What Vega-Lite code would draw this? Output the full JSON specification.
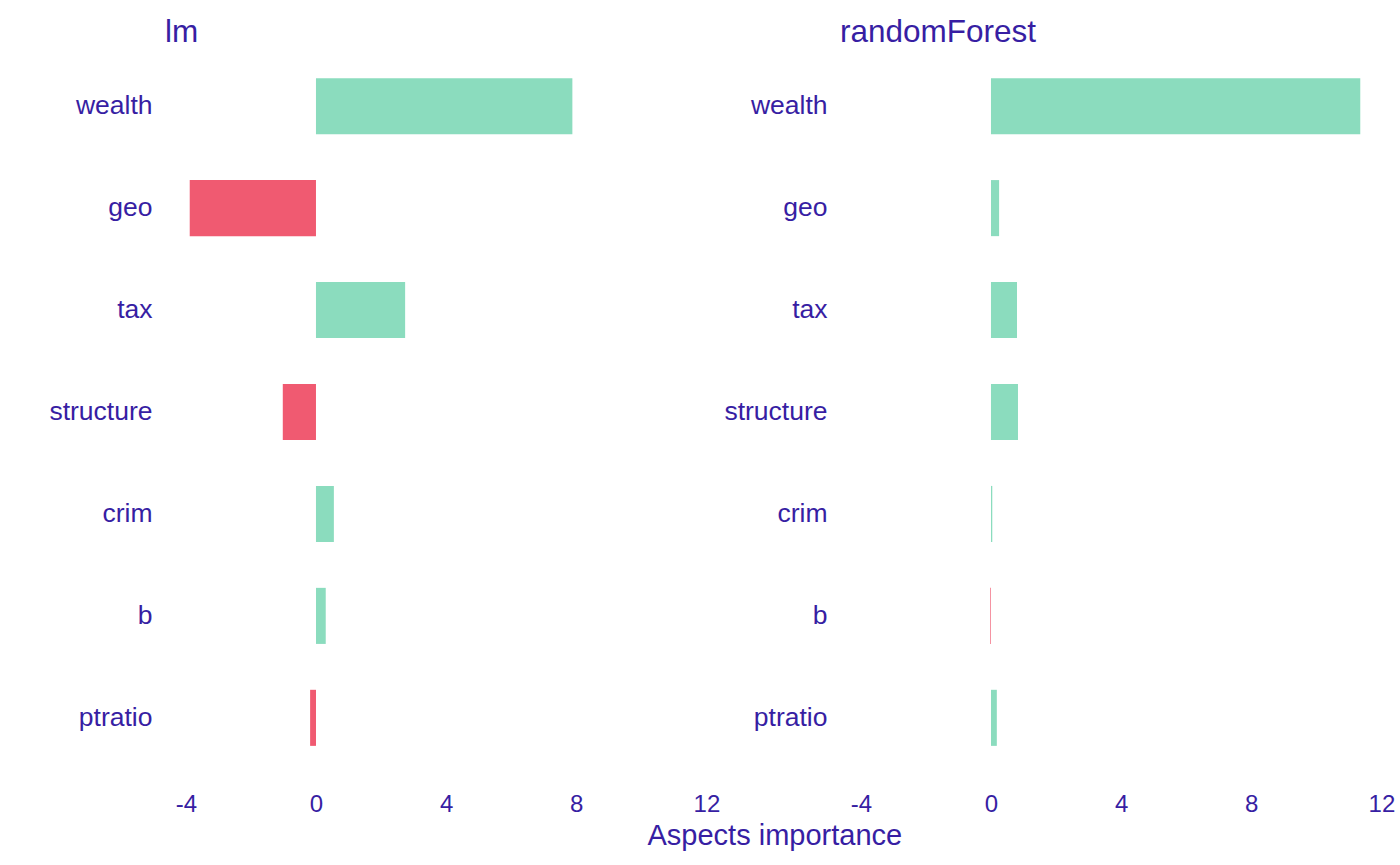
{
  "$schema": "https://vega.github.io/schema/vega-lite/v6.json",
  "background": "white",
  "padding": {"left": 48, "top": 16, "right": 5, "bottom": 5},
  "title": {
    "text": "Aspects importance",
    "orient": "bottom",
    "anchor": "middle",
    "dx": 53,
    "offset": 6,
    "font": "Liberation Sans",
    "fontSize": 29,
    "fontWeight": "normal",
    "color": "#371ea3"
  },
  "data": {
    "values": [
      {"model": "lm", "variable": "wealth", "importance": 7.88},
      {"model": "lm", "variable": "geo", "importance": -3.88},
      {"model": "lm", "variable": "tax", "importance": 2.74},
      {"model": "lm", "variable": "structure", "importance": -1.02},
      {"model": "lm", "variable": "crim", "importance": 0.55},
      {"model": "lm", "variable": "b", "importance": 0.3},
      {"model": "lm", "variable": "ptratio", "importance": -0.18},
      {"model": "randomForest", "variable": "wealth", "importance": 11.35},
      {"model": "randomForest", "variable": "geo", "importance": 0.25},
      {"model": "randomForest", "variable": "tax", "importance": 0.8},
      {"model": "randomForest", "variable": "structure", "importance": 0.83},
      {"model": "randomForest", "variable": "crim", "importance": 0.04},
      {"model": "randomForest", "variable": "b", "importance": -0.02},
      {"model": "randomForest", "variable": "ptratio", "importance": 0.18}
    ]
  },
  "facet": {
    "column": {
      "field": "model",
      "type": "nominal",
      "sort": ["lm", "randomForest"],
      "title": null,
      "header": {
        "labelOrient": "top",
        "labelAnchor": "start",
        "labelFont": "Liberation Sans",
        "labelFontSize": 31.5,
        "labelColor": "#371ea3",
        "labelPadding": -3
      }
    }
  },
  "spacing": 13,
  "resolve": {"axis": {"y": "independent"}},
  "spec": {
    "width": 545,
    "height": 734,
    "mark": {"type": "bar"},
    "encoding": {
      "y": {
        "field": "variable",
        "type": "nominal",
        "sort": ["wealth", "geo", "tax", "structure", "crim", "b", "ptratio"],
        "scale": {"paddingInner": 0.45, "paddingOuter": 0.325},
        "axis": {
          "title": null,
          "ticks": false,
          "domain": false,
          "labelFont": "Liberation Sans",
          "labelFontSize": 26.5,
          "labelColor": "#371ea3",
          "labelPadding": 13
        }
      },
      "x": {
        "field": "importance",
        "type": "quantitative",
        "scale": {"domain": [-4.64, 12.11], "nice": false, "zero": false},
        "axis": {
          "title": null,
          "values": [-4, 0, 4, 8, 12],
          "labelExpr": "replace(datum.label, '\u2212', '-')",
          "ticks": false,
          "domain": false,
          "grid": false,
          "labelFlush": false,
          "labelOverlap": false,
          "labelFont": "Liberation Sans",
          "labelFontSize": 24,
          "labelColor": "#371ea3",
          "labelPadding": 13
        }
      },
      "color": {
        "condition": {"test": "datum.importance < 0", "value": "#f05a71"},
        "value": "#8bdcbe"
      }
    }
  },
  "config": {"view": {"stroke": null}}
}
